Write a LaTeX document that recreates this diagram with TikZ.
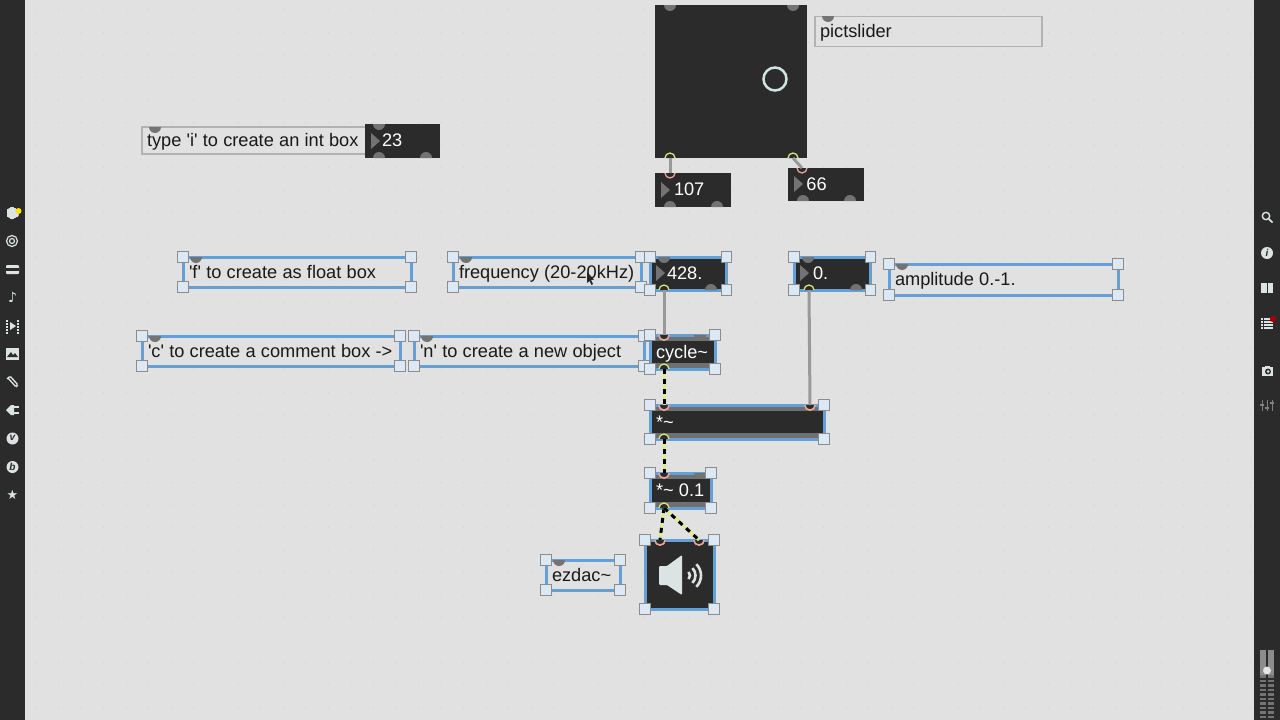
\documentclass[tikz,border=0pt]{standalone}
\usepackage{fontspec}
\setmainfont[Ligatures=TeXOff]{Liberation Sans}
\newfontfamily\symfont{DejaVu Sans}
\usetikzlibrary{shapes,arrows}
\definecolor{patchbg}{HTML}{E1E1E1}
\definecolor{griddot}{HTML}{D2D2D2}
\definecolor{panel}{HTML}{2B2B2B}
\definecolor{band}{HTML}{707070}
\definecolor{selblue}{HTML}{649FD6}
\definecolor{handlefill}{HTML}{DCE8F3}
\definecolor{outyellow}{HTML}{D6E67C}
\definecolor{inpink}{HTML}{E8A497}
\definecolor{sigyellow}{HTML}{DDEE88}
\definecolor{icon}{HTML}{DCE3E3}
\definecolor{knob}{HTML}{CFE3E3}
\tikzset{
	boxtext/.style={font=\fontsize{18.2}{20}\selectfont,text height=13,text depth=1,align=left,anchor=north west,inner ysep=0,outer sep=0},
	lowtext/.style={text height=12,text depth=1},
	sized/.style 2 args={text width=#1-12,minimum height=#2,inner xsep=6,
		execute at begin node={\spaceskip=5.25pt\relax\leavevmode\hbox to 0pt\bgroup},execute at end node={\hss\egroup}},
	cmt/.style={boxtext,lowtext,draw=black!30,line width=1.5,text=black!90},
	selcmt/.style={boxtext,draw=selblue,line width=3,text=black!90},
	obj/.style={boxtext,lowtext,fill=panel,text=white},
	selobj/.style={boxtext,fill=panel,draw=selblue,line width=3,text=white},
	handle/.style={draw=black!45,fill=handlefill,line width=0.8,minimum size=10.5,inner sep=0,outer sep=0},
	cord/.style={draw=black!40,line width=3},
	sigcord/.style={draw=sigyellow,line width=3,postaction={draw=black,dash pattern=on 5pt off 5pt}},
	tri/.style={fill=black!55}
}
\newcommand{\handles}[1]{%
	\foreach \c/\n in {north west/nw,north east/ne,south west/sw,south east/se}
		\node[handle] (#1-\n) at (#1.\c) {};
}
\newcommand{\bands}[2]{%
	\fill[band] ([xshift=1.5,yshift=-1.5]#1.north west) rectangle ([xshift=-1.5,yshift=-#2]#1.north east);
	\fill[band] ([xshift=1.5,yshift=1.5]#1.south west) rectangle ([xshift=-1.5,yshift=#2]#1.south east);
}
\newcommand{\outlet}[1]{%
	\fill[panel] ([xshift=-5]#1) arc (180:360:5) -- cycle;
	\draw[outyellow,line width=1.3] ([xshift=-5]#1) arc (180:360:5);
}
\newcommand{\inlet}[1]{%
	\fill[panel] ([xshift=-5]#1) arc (180:0:5) -- cycle;
	\draw[inpink,line width=1.3] ([xshift=-5]#1) arc (180:0:5);
}
\newcommand{\dimtop}[1]{\fill[black!55] ([xshift=-6]#1) arc (180:0:6) -- cycle;}
\newcommand{\dimbot}[1]{\fill[black!55] ([xshift=-6]#1) arc (180:360:6) -- cycle;}
\begin{document}
\begin{tikzpicture}[x=1pt,y=-1pt]
		\useasboundingbox (0,0) rectangle (1280,720);
		\fill[patchbg] (0,0) rectangle (1280,720);
		% grid of the patcher
		\foreach \i in {0,...,54}
			\foreach \j in {0,...,31}
				\fill[griddot] (36+22.5*\i,10+22.5*\j) circle [radius=0.6];
		% side panels
		\fill[panel] (0,0) rectangle (25,720);
		\fill[panel] (1254,0) rectangle (1280,720);
		% slider and comment
		\node[obj,sized={152}{153}] (slider) at (655,5) {};
		\draw[knob,line width=2.5] (775,79) circle [radius=11.5];
		\dimtop{670,5}
		\dimtop{793,5}
		\node[cmt,sized={227}{30},yshift=-0.5] (slidercmt) at (815,16) {\hspace{-1pt}pictslider};
		\dimtop{828,16}
		\node[obj,minimum width=76,minimum height=34,inner xsep=0] (xbox) at (655,173) {\hspace{19pt}107\hspace{27pt}};
		\node[obj,minimum width=76,minimum height=33,inner xsep=0] (ybox) at (788,168) {\hspace{18pt}66\hspace{37pt}};
		\fill[tri] (661,182) -- (670,190) -- (661,198) -- cycle;
		\fill[tri] (794,176) -- (803,184) -- (794,192) -- cycle;
		\dimbot{670,207}
		\dimbot{717,207}
		\dimbot{803,201}
		\dimbot{850,201}
		\coordinate (sliderx) at (670,158);
		\coordinate (slidery) at (793,158);
		\coordinate (xin) at (670,173);
		\coordinate (yin) at (802,168);
		\outlet{sliderx}
		\outlet{slidery}
		\inlet{xin}
		\inlet{yin}
		\draw[cord] (sliderx) -- (xin);
		\draw[cord] (slidery) -- (yin);
		% int box
		\node[cmt,sized={224}{27}] (intcmt) at (142,127) {\hspace{-1pt}type 'i' to create an int box};
		\dimtop{155,127}
		\node[obj,minimum width=75,minimum height=34,inner xsep=0] (intbox) at (365,124) {\hspace{17pt}23\hspace{38pt}};
		\fill[tri] (371,133) -- (380,141) -- (371,149) -- cycle;
		\dimtop{379,124}
		\dimbot{379,158}
		\dimbot{426,158}
		% comments
		\node[selcmt,sized={228}{30}] (floatcmt) at (183,257) {'f' to create as float box};
		\node[selcmt,sized={188}{30}] (freqcmt) at (453,257) {frequency (20-20kHz)};
		\node[selcmt,sized={229}{31}] (ampcmt) at (889,264) {amplitude 0.-1.};
		\node[selcmt,sized={258}{30}] (ccmt) at (142,336) {'c' to create a comment box ->};
		\node[selcmt,sized={230}{30}] (ncmt) at (414,336) {'n' to create a new object};
		\node[selcmt,sized={74}{30}] (ezcmt) at (546,560) {ezdac\char`~};
		\dimtop{196,257}
		\dimtop{466,257}
		\dimtop{902,264}
		\dimtop{155,336}
		\dimtop{427,336}
		\dimtop{559,560}
		% cursor over the comment
		\fill[black!85] (587,272) -- (587,283) -- (589.5,281) -- (591.5,285) -- (593,284) -- (591,280) -- (594,279.5) -- cycle;
		% objects
		\node[selobj,minimum width=75,minimum height=33,inner xsep=0] (freq) at (650,257) {\hspace{17pt}428.\hspace{24pt}};
		\node[selobj,minimum width=76,minimum height=33,inner xsep=0] (amp) at (794,257) {\hspace{19pt}0.\hspace{42pt}};
		\fill[tri] (656,265) -- (665,273) -- (656,281) -- cycle;
		\fill[tri] (800,265) -- (809,273) -- (800,281) -- cycle;
		\dimtop{664,257}
		\dimtop{808,257}
		\dimbot{711,290}
		\dimbot{856,290}
		\node[selobj,sized={65}{34}] (cyc) at (650,335) {cycle\char`~};
		\bands{cyc}{6}
		\node[selobj,sized={174}{34}] (mul) at (650,405) {*\char`~};
		\bands{mul}{6}
		\node[selobj,sized={61}{35}] (gain) at (650,473) {*\char`~{} 0.1};
		\bands{gain}{6}
		\dimtop{700,473}
		\dimtop{700,335}
		\node[selobj,sized={69}{69}] (dac) at (645,540) {};
		% speaker icon
		\fill[icon,rounded corners=1] (659,566) -- (667,566) -- (682,555) -- (682,595) -- (667,585) -- (659,585) -- cycle;
		\foreach \r in {5,10.5,16}
			\draw[icon,line width=2.6] (685+\r*0.707,575.5-\r*0.707) arc (-45:45:\r);
		% inlets and outlets
		\coordinate (freqout) at (664,290);
		\coordinate (cycin) at (664,335);
		\coordinate (cycout) at (664,369);
		\coordinate (mulin) at (664,405);
		\coordinate (ampout) at (809,290);
		\coordinate (mulinb) at (810,405);
		\coordinate (mulout) at (664,439);
		\coordinate (gainin) at (664,473);
		\coordinate (gainout) at (664,508);
		\coordinate (dacl) at (660,540);
		\coordinate (dacr) at (699,540);
		\foreach \p in {freqout,cycout,ampout,mulout,gainout}
			\outlet{\p}
		\foreach \p in {cycin,mulin,mulinb,gainin,dacl,dacr}
			\inlet{\p}
		\draw[cord] (freqout) -- (cycin);
		\draw[cord] (ampout) -- (mulinb);
		\draw[sigcord] (cycout) -- (mulin);
		\draw[sigcord] (mulout) -- (gainin);
		\draw[sigcord] (gainout) -- (dacl);
		\draw[sigcord] (gainout) -- (dacr);
		% handles
		\foreach \b in {floatcmt,freqcmt,ampcmt,ccmt,ncmt,ezcmt,freq,amp,cyc,mul,gain,dac}
			\handles{\b}
		% left panel icons
		\fill[icon] (12,207) -- (18,210) -- (18,216) -- (12,219) -- (7,216) -- (7,210) -- cycle;
		\fill[yellow!85!orange] (18.5,211) circle [radius=3];
		\draw[icon,line width=1.2] (12,241) circle [radius=5.5];
		\draw[icon,line width=1.2] (12,241) circle [radius=2.5];
		\fill[icon,rounded corners=1] (6,265) rectangle (19,274);
		\fill[panel] (6,268) rectangle (19,271);
		\node[text=icon,font=\symfont\fontsize{14}{14}\selectfont,inner sep=0] (noteicon) at (12.5,297) {♪};
		\fill[icon] (10,322) -- (16,326) -- (10,330) -- cycle;
		\foreach \y in {320,323,326,329,332}{
			\fill[icon] (6,\y) rectangle (8,\y+1.7);
			\fill[icon] (17,\y) rectangle (19,\y+1.7);
		}
		\fill[icon] (6,348) rectangle (19,360);
		\fill[panel] (7,357) -- (11,352) -- (13,355) -- (15,353) -- (18,357) -- cycle;
		\draw[icon,line width=1.3,rounded corners=1.5] (8,378) -- (16,387) -- (18,385) -- (10,376) -- (7,379);
		\fill[icon] (6,410) -- (11,405) -- (14,405) -- (14,415) -- (11,415) -- cycle;
		\fill[icon] (14,406) rectangle (19,408);
		\fill[icon] (14,412) rectangle (19,414);
		\fill[icon] (12.5,438.5) circle [radius=6];
		\node[text=panel,font=\itshape\bfseries\fontsize{10}{10}\selectfont,inner sep=0] (vicon) at (12.5,438) {v};
		\fill[icon] (12.5,467) circle [radius=6];
		\node[text=panel,font=\itshape\bfseries\fontsize{10}{10}\selectfont,inner sep=0] (bicon) at (12.5,467) {b};
		\node[text=icon,font=\symfont\fontsize{13}{13}\selectfont,inner sep=0] (staricon) at (12.5,495) {★};
		% right panel icons
		\draw[icon,line width=1.4] (1266,216) circle [radius=3.7];
		\draw[icon,line width=1.7] (1268.8,219) -- (1272.5,222.5);
		\fill[icon] (1267,253) circle [radius=6];
		\node[text=panel,font=\itshape\bfseries\fontsize{10}{10}\selectfont,inner sep=0] (infoicon) at (1267,253) {i};
		\fill[icon] (1261,283) rectangle (1266.5,293);
		\fill[icon] (1267.5,283) rectangle (1273,293);
		\foreach \y in {318,321,324,327}{
			\fill[icon] (1261,\y) rectangle (1263,\y+1.6);
			\fill[icon] (1264,\y) rectangle (1273,\y+1.6);
		}
		\fill[red!65!black] (1273,319) circle [radius=3.2];
		\fill[icon] (1262,367) rectangle (1273,376);
		\fill[icon] (1264.5,365.5) rectangle (1270,368);
		\fill[panel] (1268,371.5) circle [radius=3];
		\fill[icon] (1268,371.5) circle [radius=1.5];
		\foreach \x/\k in {1262/404,1267/407,1272/402}{
			\draw[black!50,line width=1] (\x,400) -- (\x,411);
			\fill[black!50] (\x-1.7,\k) rectangle (\x+1.7,\k+2);
		}
		% output slider
		\fill[black!45] (1260,650) rectangle (1266,675);
		\fill[black!45] (1268,650) rectangle (1274,675);
		\foreach \y in {675,679.5,...,719}{
			\fill[black!55] (1260,\y) rectangle (1266,\y+2.5);
			\fill[black!55] (1268,\y) rectangle (1274,\y+2.5);
		}
		\fill[black!10] (1267,670.5) circle [radius=4];
\end{tikzpicture}
\end{document}
